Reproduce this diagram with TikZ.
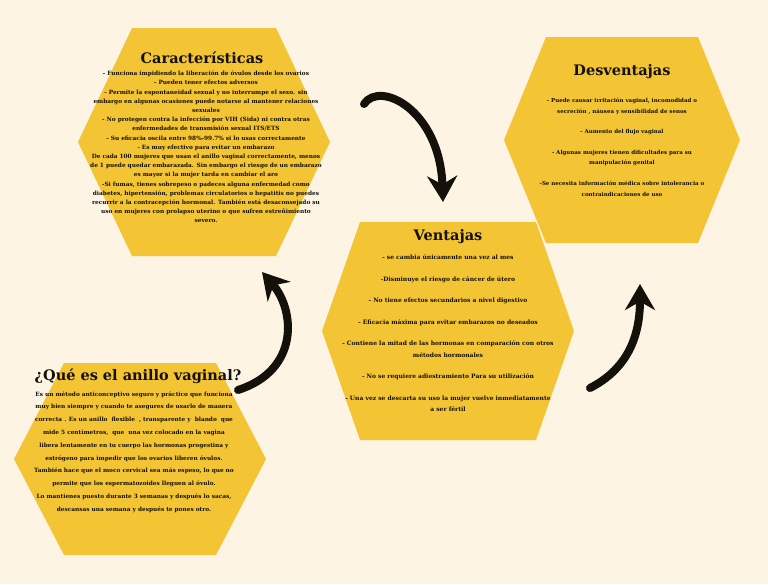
\documentclass[tikz,border=0pt]{standalone}
\usepackage{fontspec}
\setmainfont{DejaVu Serif}
\usetikzlibrary{arrows.meta, positioning}
\definecolor{Cream}{RGB}{254, 244, 228}
\definecolor{Honey}{RGB}{243, 197, 52}
\definecolor{Ink}{RGB}{20, 16, 10}

\tikzset{
  hexa/.style={fill=Honey, draw=none},
  heading/.style={font=\bfseries\fontsize{14.5}{16}\selectfont, text=Ink},
  body/.style={font=\bfseries\fontsize{5.8}{9.2}\selectfont, text=Ink, align=center},
  brush/.style={line width=8pt, Ink, line cap=round, -{Stealth[length=26pt, width=30pt]}}
}
% hexagon with centre, half width, half height, half top edge
\newcommand{\hexagonat}[4]{%
  \begin{scope}[shift={(#1)}]
    \fill[hexa] (-#4,-#3) -- (#4,-#3) -- (#2,0) -- (#4,#3) -- (-#4,#3) -- (-#2,0) -- cycle;
  \end{scope}}

\begin{document}
\begin{tikzpicture}[x=1pt,y=-1pt]
  \fill[Cream] (0,0) rectangle (768,584);
  \useasboundingbox (0,0) rectangle (768,584);

  \hexagonat{204,142}{126}{114}{72}
  \hexagonat{622,140}{118}{103}{76}
  \hexagonat{448,331}{126}{109}{88}
  \hexagonat{140,459}{126}{96}{76}

  % titles
  \node[heading] (caractitle) at (202,58) {Características};
  \node[heading] (desvtitle) at (622,72) {Desventajas};
  \node[heading] (venttitle) at (448,237) {Ventajas};
  \node[heading] (quetitle) at (138,376) {¿Qué es el anillo vaginal?};

  % texts
  \node[body, below=0pt of caractitle, xshift=4pt] (caractext) {%
    - Funciona impidiendo la liberación de óvulos desde los ovarios\\
    - Pueden tener efectos adversos\\
    - Permite la espontaneidad sexual y no interrumpe el sexo. sin\\
    embargo en algunas ocasiones puede notarse al mantener relaciones\\
    sexuales\\
    - No protegen contra la infección por VIH (Sida) ni contra otras\\
    enfermedades de transmisión sexual ITS/ETS\\
    - Su eficacia oscila entre 98\%-99.7\% si lo usas correctamente\\
    - Es muy efectivo para evitar un embarazo\\
    De cada 100 mujeres que usan el anillo vaginal correctamente, menos\\
    de 1 puede quedar embarazada. Sin embargo el riesgo de un embarazo\\
    es mayor si la mujer tarda en cambiar el aro\\
    -Si fumas, tienes sobrepeso o padeces alguna enfermedad como\\
    diabetes, hipertensión, problemas circulatorios o hepatitis no puedes\\
    recurrir a la contracepción hormonal. También está desaconsejado su\\
    uso en mujeres con prolapso uterino o que sufren estreñimiento\\
    severo.};
  \node[body, font=\bfseries\fontsize{5.5}{10.6}\selectfont, below=12pt of desvtitle] (desvtext) {%
    - Puede causar irritación vaginal, incomodidad o\\
    secreción , náusea y sensibilidad de senos\\[10pt]
    - Aumento del flujo vaginal\\[10pt]
    - Algunas mujeres tienen dificultades para su\\
    manipulación genital\\[10pt]
    -Se necesita información médica sobre intolerancia o\\
    contraindicaciones de uso};
  \node[body, font=\bfseries\fontsize{6}{11.5}\selectfont, below=4pt of venttitle] (venttext) {%
    - se cambia únicamente una vez al mes\\[10pt]
    -Disminuye el riesgo de cáncer de útero\\[10pt]
    - No tiene efectos secundarios a nivel digestivo\\[10pt]
    - Eficacia máxima para evitar embarazos no deseados\\[10pt]
    - Contiene la mitad de las hormonas en comparación con otros\\
    métodos hormonales\\[10pt]
    - No se requiere adiestramiento Para su utilización\\[10pt]
    - Una vez se descarta su uso la mujer vuelve inmediatamente\\
    a ser fértil};
  \node[body, font=\bfseries\fontsize{5.8}{12.8}\selectfont, below=1pt of quetitle, xshift=-4pt] (quetext) {%
    Es un método anticonceptivo seguro y práctico que funciona\\
    muy bien siempre y cuando te asegures de usarlo de manera\\
    correcta . Es un anillo~ flexible~ , transparente y~ blando~ que\\
    mide 5 centímetros,~ que~ una vez colocado en la vagina\\
    libera lentamente en tu cuerpo las hormonas progestina y\\
    estrógeno para impedir que los ovarios liberen óvulos.\\
    También hace que el moco cervical sea más espeso, lo que no\\
    permite que los espermatozoides lleguen al óvulo.\\
    Lo mantienes puesto durante 3 semanas y después lo sacas,\\
    descansas una semana y después te pones otro.};

  % arrows
  \coordinate (arrowa) at (364,104);
  \coordinate (arrowb) at (443,202);
  \draw[brush] (arrowa) .. controls (380,80) and (440,110) .. (arrowb);
  \coordinate (arrowc) at (238,390);
  \coordinate (arrowd) at (262,272);
  \draw[brush] (arrowc) .. controls (300,370) and (295,310) .. (arrowd);
  \coordinate (arrowe) at (590,388);
  \coordinate (arrowf) at (640,284);
  \draw[brush] (arrowe) .. controls (625,370) and (640,340) .. (arrowf);
\end{tikzpicture}
\end{document}
